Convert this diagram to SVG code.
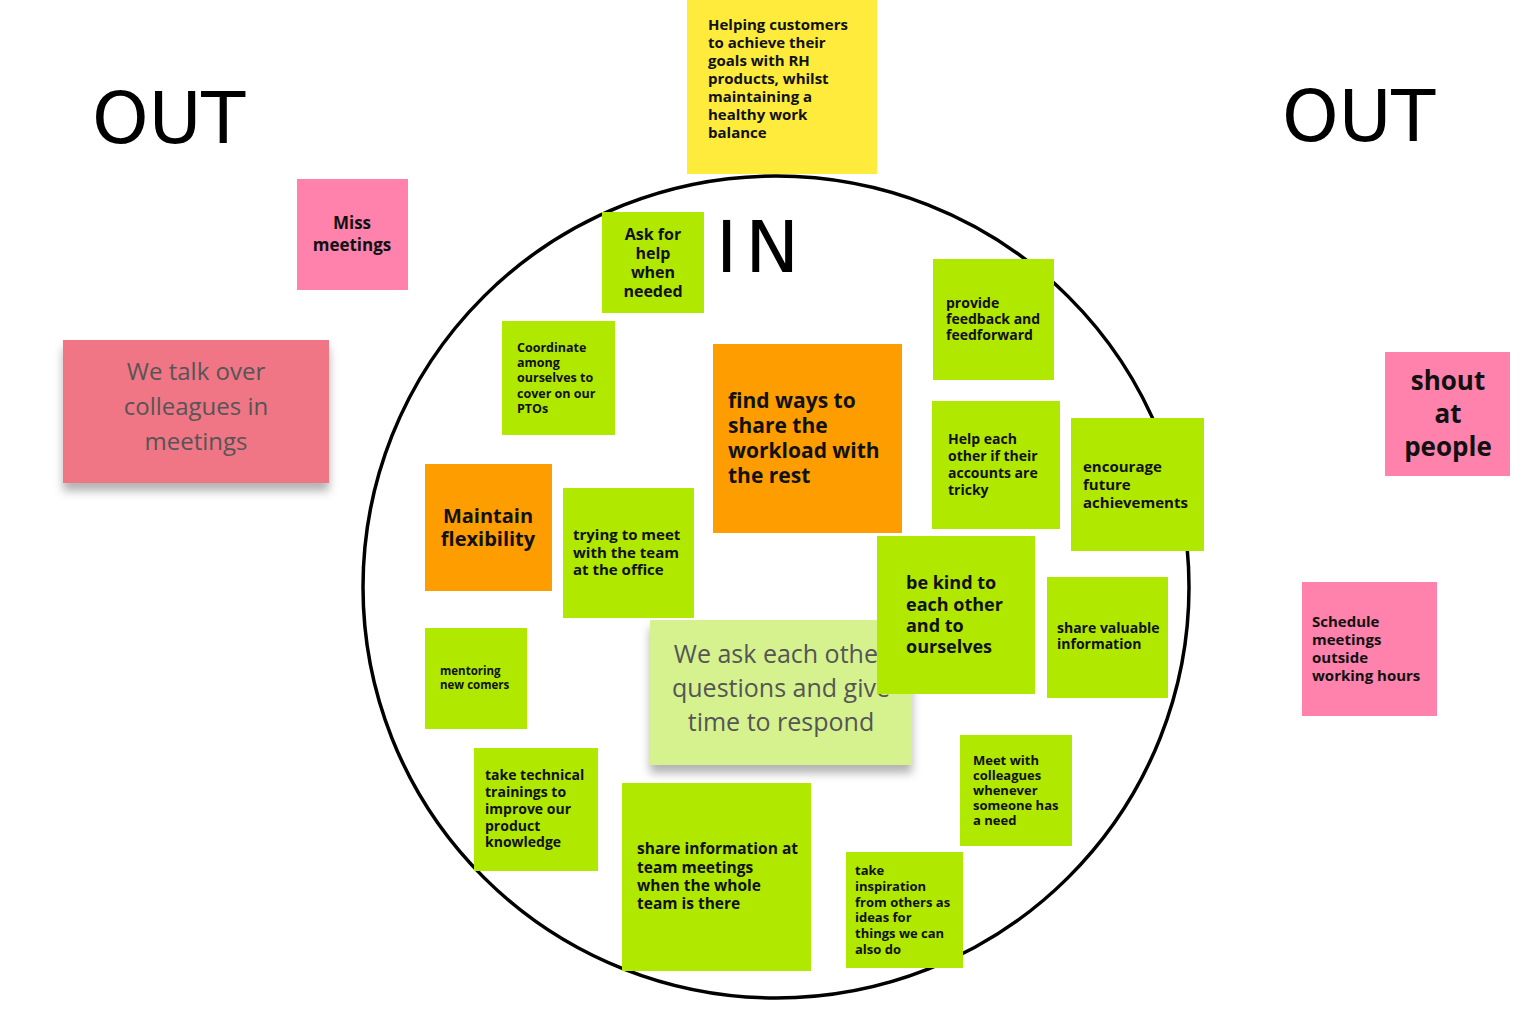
<svg xmlns="http://www.w3.org/2000/svg" width="1536" height="1032" viewBox="0 0 1536 1032">
<defs>
<filter id="sh" x="-10%" y="-10%" width="130%" height="140%"><feDropShadow dx="0" dy="8" stdDeviation="5" flood-color="#000" flood-opacity="0.3"/></filter>
</defs>
<style>
.g{fill:#b0e800}.o{fill:#fe9d00}.p{fill:#fe82ac}.y{fill:#feeb3c}
.t{font-family:"Open Sans",sans-serif;font-weight:700;fill:#111}
.l{font-family:"Open Sans",sans-serif;font-weight:400;fill:#555}
.big{font-family:"DejaVu Sans",sans-serif;font-size:72px;fill:#000}
</style>
<rect width="1536" height="1032" fill="#fff"/>
<g id="connectors"></g>
<g id="circle"><ellipse cx="776" cy="587" rx="413" ry="411" fill="none" stroke="#000" stroke-width="3.5"/></g>
<text class="big" x="92" y="143">OUT</text>
<text class="big" x="1282" y="141">OUT</text>
<text class="big" x="716" y="272" font-size="70" letter-spacing="8">IN</text>

<g id="n-helping"><rect class="y" x="687" y="0" width="190" height="174"/>
<text class="t" font-size="15"><tspan x="708" y="30">Helping customers</tspan><tspan x="708" y="48">to achieve their</tspan><tspan x="708" y="66">goals with RH</tspan><tspan x="708" y="84">products, whilst</tspan><tspan x="708" y="102">maintaining a</tspan><tspan x="708" y="120">healthy work</tspan><tspan x="708" y="138">balance</tspan></text></g>

<g id="n-miss"><rect class="p" x="297" y="179" width="111" height="111"/>
<text class="t" font-size="17" text-anchor="middle"><tspan x="352" y="229">Miss</tspan><tspan x="352" y="251">meetings</tspan></text></g>

<g id="n-talkover"><rect x="63" y="340" width="266" height="143" fill="#f07585" filter="url(#sh)"/>
<text class="l" font-size="24" text-anchor="middle"><tspan x="196" y="380">We talk over</tspan><tspan x="196" y="415">colleagues in</tspan><tspan x="196" y="450">meetings</tspan></text></g>

<g id="n-shout"><rect class="p" x="1385" y="352" width="125" height="124"/>
<text class="t" font-size="26" text-anchor="middle"><tspan x="1448" y="390">shout</tspan><tspan x="1448" y="423">at</tspan><tspan x="1448" y="456">people</tspan></text></g>

<g id="n-schedule"><rect class="p" x="1302" y="582" width="135" height="134"/>
<text class="t" font-size="15"><tspan x="1312" y="627">Schedule</tspan><tspan x="1312" y="645">meetings</tspan><tspan x="1312" y="663">outside</tspan><tspan x="1312" y="681">working hours</tspan></text></g>

<g id="n-ask"><rect class="g" x="602" y="212" width="102" height="101"/>
<text class="t" font-size="16" text-anchor="middle"><tspan x="653" y="240">Ask for</tspan><tspan x="653" y="259">help</tspan><tspan x="653" y="278">when</tspan><tspan x="653" y="297">needed</tspan></text></g>

<g id="n-coord"><rect class="g" x="502" y="321" width="113" height="114"/>
<text class="t" font-size="12.5"><tspan x="517" y="352">Coordinate</tspan><tspan x="517" y="367">among</tspan><tspan x="517" y="382">ourselves to</tspan><tspan x="517" y="398">cover on our</tspan><tspan x="517" y="413">PTOs</tspan></text></g>

<g id="n-find"><rect class="o" x="713" y="344" width="189" height="189"/>
<text class="t" font-size="21"><tspan x="728" y="408">find ways to</tspan><tspan x="728" y="433">share the</tspan><tspan x="728" y="458">workload with</tspan><tspan x="728" y="483">the rest</tspan></text></g>

<g id="n-provide"><rect class="g" x="933" y="259" width="121" height="121"/>
<text class="t" font-size="14"><tspan x="946" y="308">provide</tspan><tspan x="946" y="324">feedback and</tspan><tspan x="946" y="340">feedforward</tspan></text></g>

<g id="n-helpeach"><rect class="g" x="932" y="401" width="128" height="128"/>
<text class="t" font-size="14"><tspan x="948" y="444">Help each</tspan><tspan x="948" y="461">other if their</tspan><tspan x="948" y="478">accounts are</tspan><tspan x="948" y="495">tricky</tspan></text></g>

<g id="n-encourage"><rect class="g" x="1071" y="418" width="133" height="133"/>
<text class="t" font-size="15"><tspan x="1083" y="472">encourage</tspan><tspan x="1083" y="490">future</tspan><tspan x="1083" y="508">achievements</tspan></text></g>

<g id="n-maintain"><rect class="o" x="425" y="464" width="127" height="127"/>
<text class="t" font-size="20" text-anchor="middle"><tspan x="488" y="523">Maintain</tspan><tspan x="488" y="546">flexibility</tspan></text></g>

<g id="n-trying"><rect class="g" x="563" y="488" width="131" height="130"/>
<text class="t" font-size="15"><tspan x="573" y="540">trying to meet</tspan><tspan x="573" y="558">with the team</tspan><tspan x="573" y="575">at the office</tspan></text></g>

<g id="n-weask"><rect x="650" y="620" width="262" height="145" fill="#d5f28e" filter="url(#sh)"/>
<text class="l" font-size="25" text-anchor="middle"><tspan x="781" y="663">We ask each other</tspan><tspan x="781" y="697">questions and give</tspan><tspan x="781" y="731">time to respond</tspan></text></g>

<g id="n-bekind"><rect class="g" x="877" y="536" width="158" height="158"/>
<text class="t" font-size="18"><tspan x="906" y="589">be kind to</tspan><tspan x="906" y="611">each other</tspan><tspan x="906" y="632">and to</tspan><tspan x="906" y="653">ourselves</tspan></text></g>

<g id="n-sharevalue"><rect class="g" x="1047" y="577" width="121" height="121"/>
<text class="t" font-size="14"><tspan x="1057" y="633">share valuable</tspan><tspan x="1057" y="649">information</tspan></text></g>

<g id="n-mentoring"><rect class="g" x="425" y="628" width="102" height="101"/>
<text class="t" font-size="11.5"><tspan x="440" y="675">mentoring</tspan><tspan x="440" y="689">new comers</tspan></text></g>

<g id="n-meet"><rect class="g" x="960" y="735" width="112" height="111"/>
<text class="t" font-size="13"><tspan x="973" y="765">Meet with</tspan><tspan x="973" y="780">colleagues</tspan><tspan x="973" y="795">whenever</tspan><tspan x="973" y="810">someone has</tspan><tspan x="973" y="825">a need</tspan></text></g>

<g id="n-technical"><rect class="g" x="474" y="748" width="124" height="123"/>
<text class="t" font-size="14"><tspan x="485" y="780">take technical</tspan><tspan x="485" y="797">trainings to</tspan><tspan x="485" y="814">improve our</tspan><tspan x="485" y="831">product</tspan><tspan x="485" y="847">knowledge</tspan></text></g>

<g id="n-shareinfo"><rect class="g" x="622" y="783" width="189" height="188"/>
<text class="t" font-size="15.5"><tspan x="637" y="854">share information at</tspan><tspan x="637" y="873">team meetings</tspan><tspan x="637" y="891">when the whole</tspan><tspan x="637" y="909">team is there</tspan></text></g>

<g id="n-inspiration"><rect class="g" x="846" y="852" width="117" height="116"/>
<text class="t" font-size="13"><tspan x="855" y="875">take</tspan><tspan x="855" y="891">inspiration</tspan><tspan x="855" y="907">from others as</tspan><tspan x="855" y="922">ideas for</tspan><tspan x="855" y="938">things we can</tspan><tspan x="855" y="954">also do</tspan></text></g>
</svg>
